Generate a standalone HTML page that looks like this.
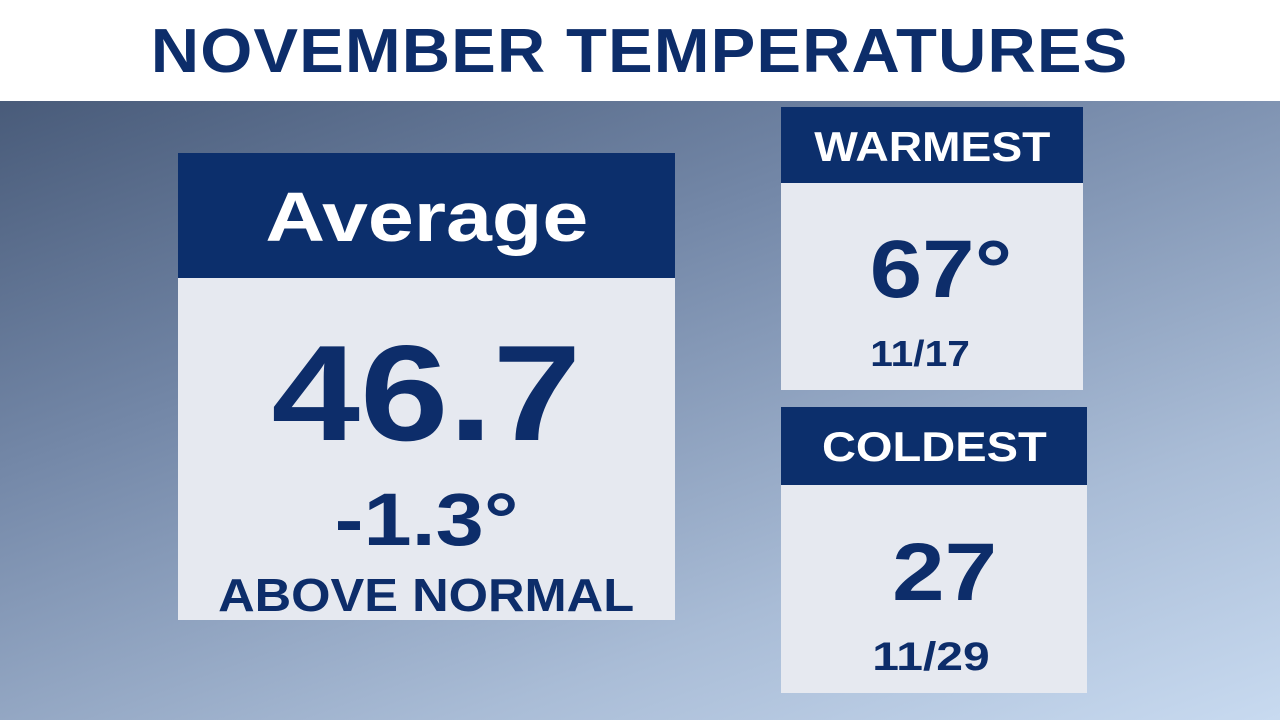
<!DOCTYPE html>
<html><head><style>
body{margin:0;width:1280px;height:720px;overflow:hidden;font-family:"Liberation Sans",sans-serif;font-weight:bold;position:relative;background:linear-gradient(160deg,#3d4f6d 0%,#7488a8 40%,#a9bcd6 75%,#c8daf0 100%)}
.top{position:absolute;left:0;top:0;width:1280px;height:101px;background:#fff}
.t{position:absolute;width:100%;text-align:center;color:#0d2d6a;white-space:nowrap}
.box{position:absolute;background:#e6e9f0}
.hd{position:absolute;left:0;top:0;width:100%;background:#0c2f6c;color:#fff;text-align:center}
.c{position:absolute;left:0;width:100%;text-align:center;color:#0d2d6a;white-space:nowrap}
span{display:inline-block}
</style></head><body>
<div class="top"><div class="t" style="top:14px;font-size:62px;letter-spacing:1px;line-height:76px"><span style="transform:scaleX(1.08)">NOVEMBER TEMPERATURES</span></div></div>

<div class="box" style="left:178px;top:153px;width:497px;height:467px">
<div class="hd" style="height:125px;font-size:70px;line-height:128px"><span style="transform:scaleX(1.18)">Average</span></div>
<div class="c" style="top:165px;font-size:136px;line-height:150px"><span style="transform:scaleX(1.17)">46.7</span></div>
<div class="c" style="top:325px;font-size:74px;line-height:84px"><span style="transform:scaleX(1.17)">-1.3°</span></div>
<div class="c" style="top:415px;font-size:46px;line-height:54px"><span style="transform:scaleX(1.1)">ABOVE NORMAL</span></div>
</div>

<div class="box" style="left:781px;top:107px;width:302px;height:283px">
<div class="hd" style="height:76px;font-size:42px;line-height:80px"><span style="transform:scaleX(1.1)">WARMEST</span></div>
<div class="c" style="top:115px;font-size:82px;line-height:96px;left:9px"><span style="transform:scaleX(1.15)">67°</span></div>
<div class="c" style="top:225px;font-size:36px;line-height:44px;left:-12px"><span style="transform:scaleX(1.13)">11/17</span></div>
</div>

<div class="box" style="left:781px;top:407px;width:306px;height:286px">
<div class="hd" style="height:78px;font-size:42px;line-height:80px"><span style="transform:scaleX(1.12)">COLDEST</span></div>
<div class="c" style="top:118px;font-size:82px;line-height:96px;left:11px"><span style="transform:scaleX(1.15)">27</span></div>
<div class="c" style="top:228px;font-size:40px;line-height:44px;left:-3px"><span style="transform:scaleX(1.2)">11/29</span></div>
</div>
</body></html>
